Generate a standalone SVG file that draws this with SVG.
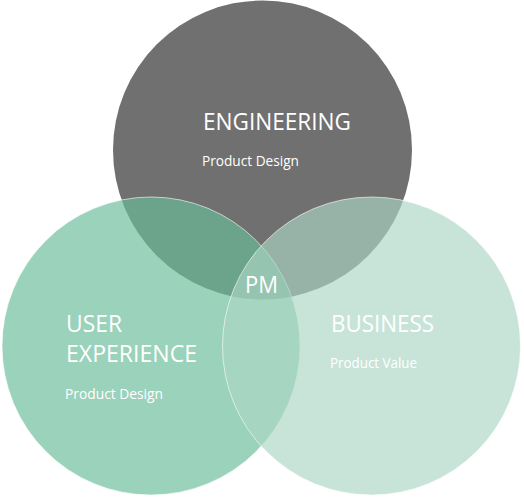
<svg xmlns="http://www.w3.org/2000/svg" width="524" height="497" viewBox="0 0 524 497">
<style>
.title{font-family:"Open Sans","Liberation Sans",sans-serif;font-size:24px;font-weight:400;fill:#ffffff}
.sub{font-family:"Open Sans","Liberation Sans",sans-serif;font-size:14px;font-weight:400;fill:#ffffff}
.ring{stroke:#ffffff;stroke-opacity:0.6;stroke-width:1}
</style>
<rect width="524" height="497" fill="#ffffff"/>
<g id="engineering">
<circle cx="262.5" cy="150" r="149.5" fill="#6f706f"/>
<text class="title" x="203" y="130" textLength="148" lengthAdjust="spacingAndGlyphs">ENGINEERING</text>
<text class="sub" x="202" y="166" textLength="97" lengthAdjust="spacingAndGlyphs">Product Design</text>
</g>
<g id="user-experience">
<circle class="ring" cx="151" cy="346" r="149" fill="#6abc9a" fill-opacity="0.67"/>
<text class="title" x="66" y="332" textLength="56" lengthAdjust="spacingAndGlyphs">USER</text>
<text class="title" x="66" y="362" textLength="131" lengthAdjust="spacingAndGlyphs">EXPERIENCE</text>
<text class="sub" x="65" y="399" textLength="98" lengthAdjust="spacingAndGlyphs">Product Design</text>
</g>
<g id="business">
<circle class="ring" cx="371.5" cy="346" r="149" fill="#acd6c4" fill-opacity="0.66"/>
<text class="title" x="331" y="332" textLength="103" lengthAdjust="spacingAndGlyphs">BUSINESS</text>
<text class="sub" x="330" y="368" textLength="87" lengthAdjust="spacingAndGlyphs">Product Value</text>
</g>
<g id="pm">
<text class="title" x="245" y="293" textLength="33" lengthAdjust="spacingAndGlyphs">PM</text>
</g>
<g id="connectors"></g>
</svg>
